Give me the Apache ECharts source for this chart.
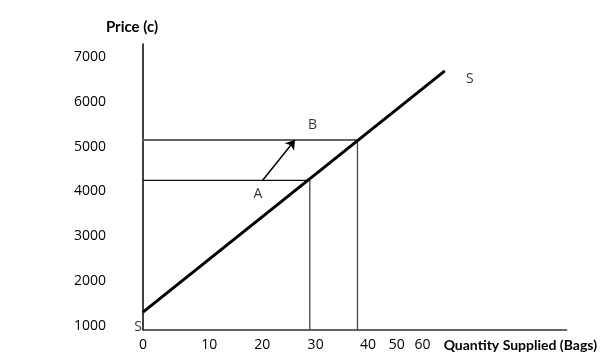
<!DOCTYPE html>
<html>
<head>
<meta charset="utf-8">
<script src="https://cdn.jsdelivr.net/npm/echarts@6/dist/echarts.min.js"></script>
<style>html,body{margin:0;padding:0;background:#fff}#c{width:600px;height:362px}</style>
</head>
<body>
<div id="c"></div>
<script>
// Data
var xTickLabels = ['0', '10', '20', '30', '40', '50', '60'];
var xTickPos = [0, 12.5, 22.5, 32.6, 42.5, 47.9, 52.8];
var yTickLabels = ['1000', '2000', '3000', '4000', '5000', '6000', '7000'];
var yTickPos = [1000, 2000, 3000, 4000, 5000, 6000, 7000];
var supplyQ = [0, 57];
var supplyP = [1300, 6700];
var pointA = [31.5, 4250];
var pointB = [40.5, 5150];
var arrowFrom = [22.6, 4250];
var arrowTo = [28.7, 5150];
var xMin = 0, xMax = 80, yMin = 900, yMax = 7300;

var font = '"Open Sans", Lato, sans-serif';
var boldFont = 'Lato, "Open Sans", sans-serif';
var chart = echarts.init(document.getElementById('c'));

function guide(pt, color, width) {
  return [
    { type: 'line', data: [[xMin, pt[1]], [pt[0], pt[1]]], symbol: 'none', silent: true,
      lineStyle: { color: color, width: width }, z: 2 },
    { type: 'line', data: [[pt[0], pt[1]], [pt[0], yMin]], symbol: 'none', silent: true,
      lineStyle: { color: '#444', width: 1.3 }, z: 2 }
  ];
}

var series = [];
series = series.concat(guide(pointB, '#666', 2));
series = series.concat(guide(pointA, '#111', 1.3));
series.push({
  type: 'line', data: [[supplyQ[0], supplyP[0]], [supplyQ[1], supplyP[1]]],
  symbol: 'none', silent: true, lineStyle: { color: '#000', width: 3 }, z: 3
});
series.push({
  type: 'line', data: [], symbol: 'none',
  markLine: {
    silent: true, symbol: ['none', 'arrow'], symbolSize: 9,
    label: { show: false },
    lineStyle: { color: '#000', width: 1.5, type: 'solid' },
    data: [[{ coord: arrowFrom }, { coord: arrowTo }]]
  }
});
var lab = { color: '#000', fontFamily: font, fontSize: 14 };
series.push({
  type: 'scatter', symbolSize: 0, silent: true, z: 5,
  data: [
    { value: pointA, label: Object.assign({ show: true, formatter: 'A', offset: [-52, 14] }, lab) },
    { value: pointB, label: Object.assign({ show: true, formatter: 'B', offset: [-45, -15] }, lab) },
    { value: [supplyQ[1], supplyP[1]], label: Object.assign({ show: true, formatter: 'S', offset: [25, 8] }, lab) },
    { value: [supplyQ[0], supplyP[0]], label: Object.assign({ show: true, formatter: 'S', offset: [-5, 15] }, lab) }
  ],
  label: { position: 'inside' }
});

chart.setOption({
  animation: false,
  backgroundColor: '#fff',
  grid: { left: 143, top: 44, width: 424, height: 286 },
  xAxis: {
    type: 'value', min: xMin, max: xMax,
    name: 'Quantity Supplied (Bags)', nameLocation: 'end', nameGap: -123,
    nameTextStyle: { color: '#000', fontFamily: boldFont, fontWeight: 'bold', fontSize: 14,
      align: 'left', verticalAlign: 'top', padding: [8, 0, 0, 0] },
    axisLine: { show: true, lineStyle: { color: '#333', width: 1.5 } },
    axisTick: { show: false },
    splitLine: { show: false },
    axisLabel: {
      customValues: xTickPos, margin: 8, color: '#000', fontFamily: font, fontSize: 14,
      formatter: function (v, i) { var k = xTickPos.indexOf(v); return xTickLabels[k >= 0 ? k : i]; }
    }
  },
  yAxis: {
    type: 'value', min: yMin, max: yMax,
    name: 'Price (c)', nameLocation: 'end', nameGap: 9,
    nameTextStyle: { color: '#000', fontFamily: boldFont, fontWeight: 'bold', fontSize: 15,
      align: 'center', padding: [0, 22, 0, 0] },
    axisLine: { show: true, lineStyle: { color: '#000', width: 1.5 } },
    axisTick: { show: false },
    splitLine: { show: false },
    axisLabel: {
      customValues: yTickPos, margin: 37, color: '#000', fontFamily: font, fontSize: 14,
      formatter: function (v, i) { var k = yTickPos.indexOf(v); return yTickLabels[k >= 0 ? k : i]; }
    }
  },
  series: series
});
</script>
</body>
</html>
